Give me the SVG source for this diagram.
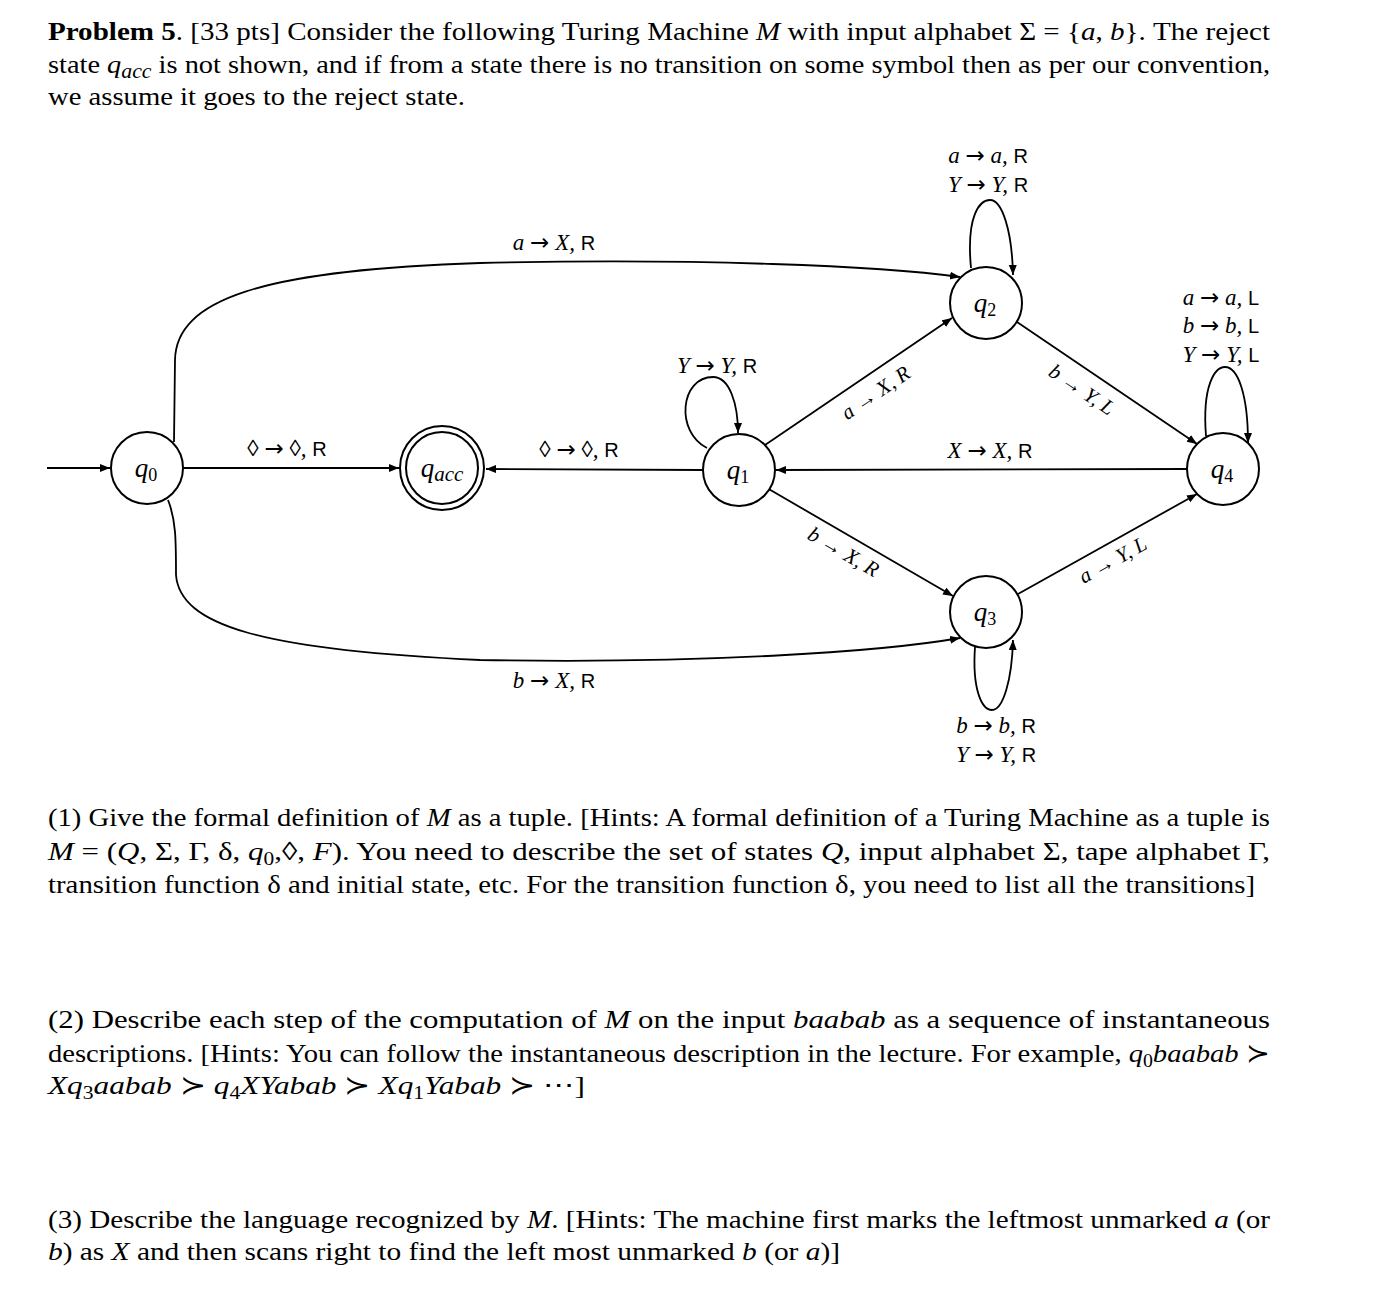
<svg xmlns="http://www.w3.org/2000/svg" width="1382" height="1314" viewBox="0 0 1382 1314">
<style>
.t{font-family:"Liberation Serif",serif;font-size:26px;fill:#000}
.i{font-style:italic}
.lab{font-family:"Liberation Serif","DejaVu Serif",serif;font-style:italic;font-size:23px;fill:#000}
.rm{font-family:"Liberation Sans",sans-serif;font-style:normal;font-size:20px}
.ar{font-family:"DejaVu Sans",sans-serif;font-style:normal;font-size:23px}
.rl{font-family:"Liberation Serif","DejaVu Serif",serif;font-style:italic;font-size:21px;fill:#000}
.nd{fill:#fff;stroke:#000;stroke-width:2}
.nl{font-family:"Liberation Serif",serif;font-style:italic;font-size:27px;fill:#000}
.sub{font-style:normal;font-size:18px}
.e{fill:none;stroke:#000;stroke-width:1.8;marker-end:url(#arr)}
</style>
<defs>
<marker id="arr" markerUnits="userSpaceOnUse" markerWidth="11" markerHeight="9" refX="10" refY="4" orient="auto">
<path d="M0,0 L10,4 L0,8 z" fill="#000"/>
</marker>
</defs>
<rect width="1382" height="1314" fill="#fff"/>

<!-- header -->
<text class="t" x="48" y="40" textLength="1222" lengthAdjust="spacingAndGlyphs"><tspan font-weight="bold">Problem 5</tspan>. [33 pts] Consider the following Turing Machine <tspan class="i">M</tspan> with input alphabet Σ = {<tspan class="i">a</tspan>, <tspan class="i">b</tspan>}. The reject</text>
<text class="t" x="48" y="73" textLength="1222" lengthAdjust="spacingAndGlyphs">state <tspan class="i">q</tspan><tspan class="i" font-size="20" dy="5">acc</tspan><tspan dy="-5"> is not shown, and if from a state there is no transition on some symbol then as per our convention,</tspan></text>
<text class="t" x="48" y="105" textLength="417" lengthAdjust="spacingAndGlyphs">we assume it goes to the reject state.</text>

<!-- connectors -->
<g id="connectors">
<path class="e" d="M47,468 L110,468"/>
<path class="e" d="M183,468 L399,468"/>
<path class="e" d="M703,470 L486,469"/>
<path class="e" d="M1187,469 L776,470"/>
<path class="e" d="M765,445 L952,318"/>
<path class="e" d="M767,488 L953,596"/>
<path class="e" d="M1017,322 L1197,444"/>
<path class="e" d="M1018,594 L1197,494"/>
<path class="e" d="M174,442 L175,360 C176,300 260,270 480,263 C700,258 880,266 960,277"/>
<path class="e" d="M168,500 C176,520 176,540 176,575 C180,625 260,650 480,660 C700,664 880,652 960,638"/>
<path class="e" d="M707,448 C675,432 680,377 713,377 C730,377 738,405 738,433"/>
<path class="e" d="M971,268 C966,215 980,200 990,200 C1002,200 1012,230 1013,275"/>
<path class="e" d="M1206,436 C1202,385 1215,367 1225,367 C1238,367 1248,395 1248,443"/>
<path class="e" d="M975,647 C972,690 982,710 992,710 C1003,710 1012,680 1013,640"/>
</g>

<!-- edge labels -->
<g id="labels">
<text class="lab" x="554" y="250" text-anchor="middle">a <tspan class="ar">→</tspan> X, <tspan class="rm">R</tspan></text>
<text class="lab" x="554" y="688" text-anchor="middle">b <tspan class="ar">→</tspan> X, <tspan class="rm">R</tspan></text>
<text class="lab" x="287" y="456" text-anchor="middle">◊ <tspan class="ar">→</tspan> ◊, <tspan class="rm">R</tspan></text>
<text class="lab" x="579" y="457" text-anchor="middle">◊ <tspan class="ar">→</tspan> ◊, <tspan class="rm">R</tspan></text>
<text class="lab" x="717" y="373" text-anchor="middle">Y <tspan class="ar">→</tspan> Y, <tspan class="rm">R</tspan></text>
<text class="lab" x="990" y="458" text-anchor="middle">X <tspan class="ar">→</tspan> X, <tspan class="rm">R</tspan></text>
<text class="lab" x="988" y="163" text-anchor="middle">a <tspan class="ar">→</tspan> a, <tspan class="rm">R</tspan></text>
<text class="lab" x="988" y="192" text-anchor="middle">Y <tspan class="ar">→</tspan> Y, <tspan class="rm">R</tspan></text>
<text class="lab" x="1221" y="305" text-anchor="middle">a <tspan class="ar">→</tspan> a, <tspan class="rm">L</tspan></text>
<text class="lab" x="1221" y="333" text-anchor="middle">b <tspan class="ar">→</tspan> b, <tspan class="rm">L</tspan></text>
<text class="lab" x="1221" y="362" text-anchor="middle">Y <tspan class="ar">→</tspan> Y, <tspan class="rm">L</tspan></text>
<text class="lab" x="996" y="733" text-anchor="middle">b <tspan class="ar">→</tspan> b, <tspan class="rm">R</tspan></text>
<text class="lab" x="996" y="762" text-anchor="middle">Y <tspan class="ar">→</tspan> Y, <tspan class="rm">R</tspan></text>
<text class="rl" transform="translate(865,377) rotate(-34.3)" x="0" y="26" text-anchor="middle">a → X, R</text>
<text class="rl" transform="translate(1093,373) rotate(33.9)" x="0" y="27" text-anchor="middle">b → Y, L</text>
<text class="rl" transform="translate(852,537) rotate(30.1)" x="0" y="24" text-anchor="middle">b → X, R</text>
<text class="rl" transform="translate(1105,546) rotate(-29)" x="0" y="23" text-anchor="middle">a → Y, L</text>
</g>

<!-- nodes -->
<g id="q0"><circle class="nd" cx="147" cy="468" r="36"/><text class="nl" x="146" y="477" text-anchor="middle">q<tspan class="sub" dy="4">0</tspan></text></g>
<g id="qacc"><circle class="nd" cx="442" cy="468" r="42"/><circle class="nd" cx="442" cy="468" r="36"/><text class="nl" x="442" y="477" text-anchor="middle">q<tspan font-size="21" dy="4">acc</tspan></text></g>
<g id="q1"><circle class="nd" cx="739" cy="470" r="36"/><text class="nl" x="738" y="479" text-anchor="middle">q<tspan class="sub" dy="4">1</tspan></text></g>
<g id="q2"><circle class="nd" cx="986" cy="303" r="36"/><text class="nl" x="985" y="312" text-anchor="middle">q<tspan class="sub" dy="4">2</tspan></text></g>
<g id="q3"><circle class="nd" cx="986" cy="612" r="36"/><text class="nl" x="985" y="621" text-anchor="middle">q<tspan class="sub" dy="4">3</tspan></text></g>
<g id="q4"><circle class="nd" cx="1223" cy="469" r="36"/><text class="nl" x="1222" y="478" text-anchor="middle">q<tspan class="sub" dy="4">4</tspan></text></g>

<!-- questions -->
<text class="t" x="48" y="826" textLength="1222" lengthAdjust="spacingAndGlyphs">(1) Give the formal definition of <tspan class="i">M</tspan> as a tuple. [Hints: A formal definition of a Turing Machine as a tuple is</text>
<text class="t" x="48" y="860" textLength="1222" lengthAdjust="spacingAndGlyphs"><tspan class="i">M</tspan> = (<tspan class="i">Q</tspan>, Σ, Γ, δ, <tspan class="i">q</tspan><tspan font-size="18" dy="5">0</tspan><tspan dy="-5">,◊, </tspan><tspan class="i">F</tspan>). You need to describe the set of states <tspan class="i">Q</tspan>, input alphabet Σ, tape alphabet Γ,</text>
<text class="t" x="48" y="893" textLength="1207" lengthAdjust="spacingAndGlyphs">transition function δ and initial state, etc. For the transition function δ, you need to list all the transitions]</text>

<text class="t" x="48" y="1028" textLength="1222" lengthAdjust="spacingAndGlyphs">(2) Describe each step of the computation of <tspan class="i">M</tspan> on the input <tspan class="i">baabab</tspan> as a sequence of instantaneous</text>
<text class="t" x="48" y="1062" textLength="1222" lengthAdjust="spacingAndGlyphs">descriptions. [Hints: You can follow the instantaneous description in the lecture. For example, <tspan class="i">q</tspan><tspan font-size="18" dy="5">0</tspan><tspan class="i" dy="-5">baabab</tspan> ≻</text>
<text class="t" x="48" y="1094" textLength="537" lengthAdjust="spacingAndGlyphs"><tspan class="i">Xq</tspan><tspan font-size="18" dy="5">3</tspan><tspan class="i" dy="-5">aabab</tspan> ≻ <tspan class="i">q</tspan><tspan font-size="18" dy="5">4</tspan><tspan class="i" dy="-5">XYabab</tspan> ≻ <tspan class="i">Xq</tspan><tspan font-size="18" dy="5">1</tspan><tspan class="i" dy="-5">Yabab</tspan> ≻ ⋯]</text>

<text class="t" x="48" y="1228" textLength="1222" lengthAdjust="spacingAndGlyphs">(3) Describe the language recognized by <tspan class="i">M</tspan>. [Hints: The machine first marks the leftmost unmarked <tspan class="i">a</tspan> (or</text>
<text class="t" x="48" y="1260" textLength="792" lengthAdjust="spacingAndGlyphs"><tspan class="i">b</tspan>) as <tspan class="i">X</tspan> and then scans right to find the left most unmarked <tspan class="i">b</tspan> (or <tspan class="i">a</tspan>)]</text>
</svg>
